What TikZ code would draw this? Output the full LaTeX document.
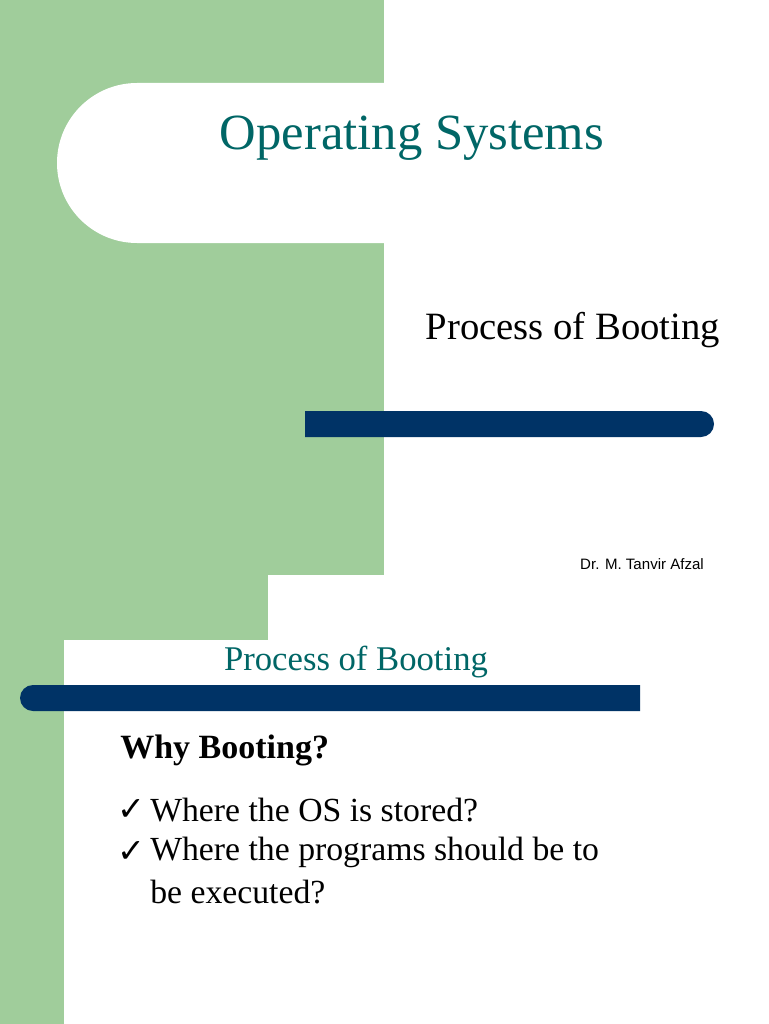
\documentclass[tikz,border=0pt]{standalone}
\usepackage{fontspec}
\setmainfont{Liberation Serif}
\newfontfamily\symfont{DejaVu Sans}
\newfontfamily\arialfont{Liberation Sans}
\definecolor{slideGreen}{RGB}{160,205,155}
\definecolor{slideNavy}{RGB}{0,51,102}
\definecolor{slideTeal}{RGB}{0,102,102}
\tikzset{
  titleText/.style={text=slideTeal, inner sep=0pt},
  bodyText/.style={anchor=west, inner sep=0pt, font=\fontsize{25.3}{29}\selectfont},
  checkText/.style={anchor=west, inner sep=0pt, font=\symfont\bfseries\fontsize{25}{29}\selectfont},
  navyBar/.style={fill=slideNavy, draw=none}
}
\begin{document}
\begin{tikzpicture}[x=0.75pt, y=-0.75pt]
\useasboundingbox (0,0) rectangle (768,1024);
\fill[white] (0,0) rectangle (768,1024);
% ---- top slide
\fill[slideGreen] (0,0) rectangle (384,575);
\fill[white] (384,83) -- (137,83) arc[start angle=-90, end angle=-270, radius=80] -- (384,243) -- cycle;
\node[titleText, font=\fontsize{38}{44}\selectfont] (title) at (412,138) {Operating Systems};
\node[inner sep=0pt, font=\fontsize{29}{34}\selectfont] (subtitle) at (573,330) {Process of Booting};
\fill[navyBar] (305,411) -- (701,411) arc[start angle=-90, end angle=90, radius=13] -- (305,437) -- cycle;
\node[inner sep=0pt, font=\arialfont\fontsize{11.3}{13}\selectfont] (author) at (642,564) {Dr. M. Tanvir Afzal};
% ---- second slide
\fill[slideGreen] (0,575) rectangle (268,640);
\fill[slideGreen] (0,575) rectangle (64,1024);
\fill[white] (64,1024) -- (64,680) arc[start angle=180, end angle=270, radius=40] -- (268,640) -- (268,1024) -- cycle;
\node[titleText, font=\fontsize{26}{30}\selectfont] (title2) at (356,662) {Process of Booting};
\fill[navyBar] (640,685) -- (33,685) arc[start angle=-90, end angle=-270, radius=13] -- (640,711) -- cycle;
\node[bodyText, font=\bfseries\fontsize{25.5}{30}\selectfont] (why) at (120,750) {Why Booting?};
\node[checkText] (checkA) at (117,810) {✓};
\node[bodyText] (itemA) at (150,810) {Where the OS is stored?};
\node[checkText] (checkB) at (117,852) {✓};
\node[bodyText] (itemB) at (150,852) {Where the programs should be to};
\node[bodyText] (itemC) at (150,892) {be executed?};
\end{tikzpicture}
\end{document}
